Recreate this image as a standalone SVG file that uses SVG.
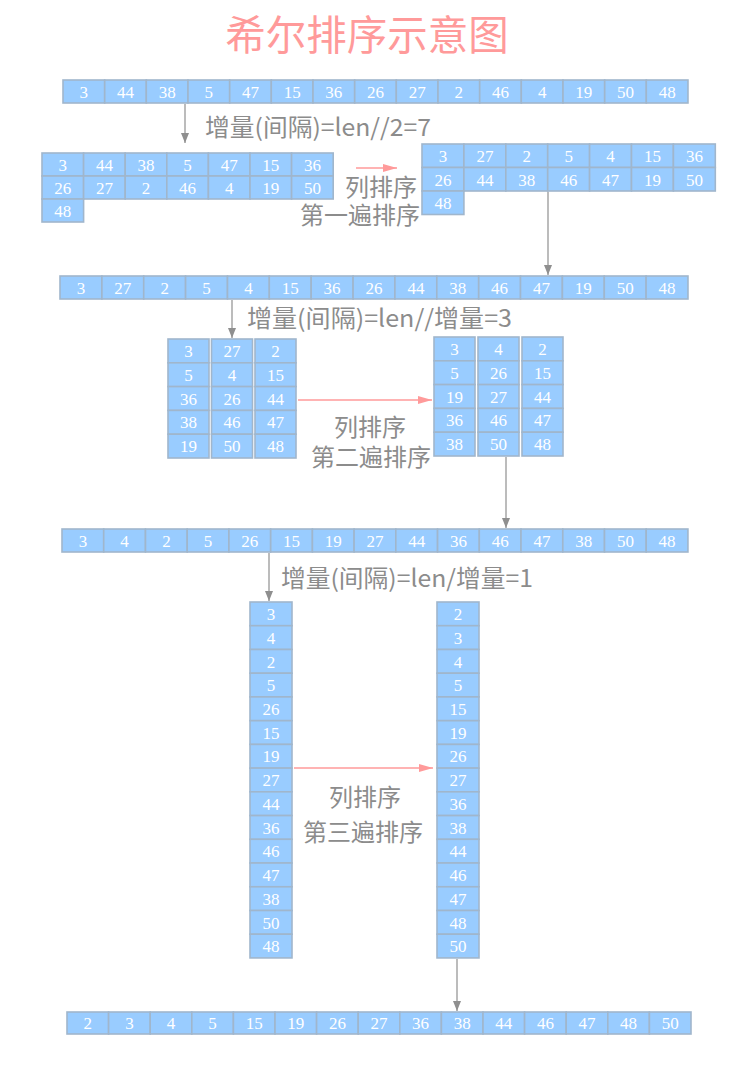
<svg xmlns="http://www.w3.org/2000/svg" width="745" height="1066" viewBox="0 0 745 1066">
<defs>
<style>
.c{fill:#99ccff;stroke:#a0b6cc;stroke-width:1.6}
.n{fill:#ffffff;font-family:"Liberation Serif","Times New Roman",serif;font-size:17px;text-anchor:middle}
.lb{fill:#8c8c8c;font-family:"Noto Sans CJK SC","Noto Sans",sans-serif;font-size:24px}
.mid{text-anchor:middle}
.ga{stroke:#8f8f8f;stroke-width:1.2;fill:none}
.pa{stroke:#ff9a9a;stroke-width:1.4;fill:none}
.title{fill:#ff9a9a;font-family:"Noto Sans CJK SC",sans-serif;font-size:40.5px;text-anchor:middle;dominant-baseline:central}
</style>
<marker id="ag" markerUnits="userSpaceOnUse" markerWidth="10" markerHeight="8" refX="10" refY="4" orient="auto"><path d="M0,0 L10,4 L0,8 z" fill="#8f8f8f"/></marker>
<marker id="ap" markerUnits="userSpaceOnUse" markerWidth="14" markerHeight="8" refX="14" refY="4" orient="auto"><path d="M0,0 L14,4 L0,8 z" fill="#ff9a9a"/></marker>
</defs>
<rect width="745" height="1066" fill="#ffffff"/>
<text class="title" x="367" y="32">希尔排序示意图</text>

<g id="row1">
<rect class="c" x="63.0" y="80" width="41.67" height="23"/><text class="n" x="83.8" y="97.5">3</text>
<rect class="c" x="104.7" y="80" width="41.67" height="23"/><text class="n" x="125.5" y="97.5">44</text>
<rect class="c" x="146.3" y="80" width="41.67" height="23"/><text class="n" x="167.2" y="97.5">38</text>
<rect class="c" x="188.0" y="80" width="41.67" height="23"/><text class="n" x="208.8" y="97.5">5</text>
<rect class="c" x="229.7" y="80" width="41.67" height="23"/><text class="n" x="250.5" y="97.5">47</text>
<rect class="c" x="271.3" y="80" width="41.67" height="23"/><text class="n" x="292.2" y="97.5">15</text>
<rect class="c" x="313.0" y="80" width="41.67" height="23"/><text class="n" x="333.8" y="97.5">36</text>
<rect class="c" x="354.7" y="80" width="41.67" height="23"/><text class="n" x="375.5" y="97.5">26</text>
<rect class="c" x="396.3" y="80" width="41.67" height="23"/><text class="n" x="417.2" y="97.5">27</text>
<rect class="c" x="438.0" y="80" width="41.67" height="23"/><text class="n" x="458.8" y="97.5">2</text>
<rect class="c" x="479.7" y="80" width="41.67" height="23"/><text class="n" x="500.5" y="97.5">46</text>
<rect class="c" x="521.3" y="80" width="41.67" height="23"/><text class="n" x="542.2" y="97.5">4</text>
<rect class="c" x="563.0" y="80" width="41.67" height="23"/><text class="n" x="583.8" y="97.5">19</text>
<rect class="c" x="604.7" y="80" width="41.67" height="23"/><text class="n" x="625.5" y="97.5">50</text>
<rect class="c" x="646.3" y="80" width="41.67" height="23"/><text class="n" x="667.2" y="97.5">48</text>
</g>

<g id="group1-left">
<rect class="c" x="42.0" y="153" width="41.6" height="23"/><text class="n" x="62.8" y="170.5">3</text>
<rect class="c" x="83.6" y="153" width="41.6" height="23"/><text class="n" x="104.4" y="170.5">44</text>
<rect class="c" x="125.2" y="153" width="41.6" height="23"/><text class="n" x="146.0" y="170.5">38</text>
<rect class="c" x="166.8" y="153" width="41.6" height="23"/><text class="n" x="187.6" y="170.5">5</text>
<rect class="c" x="208.4" y="153" width="41.6" height="23"/><text class="n" x="229.2" y="170.5">47</text>
<rect class="c" x="250.0" y="153" width="41.6" height="23"/><text class="n" x="270.8" y="170.5">15</text>
<rect class="c" x="291.6" y="153" width="41.6" height="23"/><text class="n" x="312.4" y="170.5">36</text>
<rect class="c" x="42.0" y="176" width="41.6" height="23"/><text class="n" x="62.8" y="193.5">26</text>
<rect class="c" x="83.6" y="176" width="41.6" height="23"/><text class="n" x="104.4" y="193.5">27</text>
<rect class="c" x="125.2" y="176" width="41.6" height="23"/><text class="n" x="146.0" y="193.5">2</text>
<rect class="c" x="166.8" y="176" width="41.6" height="23"/><text class="n" x="187.6" y="193.5">46</text>
<rect class="c" x="208.4" y="176" width="41.6" height="23"/><text class="n" x="229.2" y="193.5">4</text>
<rect class="c" x="250.0" y="176" width="41.6" height="23"/><text class="n" x="270.8" y="193.5">19</text>
<rect class="c" x="291.6" y="176" width="41.6" height="23"/><text class="n" x="312.4" y="193.5">50</text>
<rect class="c" x="42.0" y="199" width="41.6" height="23"/><text class="n" x="62.8" y="216.5">48</text>
</g>

<g id="group1-right">
<rect class="c" x="422.0" y="144" width="41.9" height="23.5"/><text class="n" x="443.0" y="162">3</text>
<rect class="c" x="463.9" y="144" width="41.9" height="23.5"/><text class="n" x="484.9" y="162">27</text>
<rect class="c" x="505.8" y="144" width="41.9" height="23.5"/><text class="n" x="526.8" y="162">2</text>
<rect class="c" x="547.7" y="144" width="41.9" height="23.5"/><text class="n" x="568.7" y="162">5</text>
<rect class="c" x="589.6" y="144" width="41.9" height="23.5"/><text class="n" x="610.6" y="162">4</text>
<rect class="c" x="631.5" y="144" width="41.9" height="23.5"/><text class="n" x="652.5" y="162">15</text>
<rect class="c" x="673.4" y="144" width="41.9" height="23.5"/><text class="n" x="694.4" y="162">36</text>
<rect class="c" x="422.0" y="167.5" width="41.9" height="23.5"/><text class="n" x="443.0" y="185.5">26</text>
<rect class="c" x="463.9" y="167.5" width="41.9" height="23.5"/><text class="n" x="484.9" y="185.5">44</text>
<rect class="c" x="505.8" y="167.5" width="41.9" height="23.5"/><text class="n" x="526.8" y="185.5">38</text>
<rect class="c" x="547.7" y="167.5" width="41.9" height="23.5"/><text class="n" x="568.7" y="185.5">46</text>
<rect class="c" x="589.6" y="167.5" width="41.9" height="23.5"/><text class="n" x="610.6" y="185.5">47</text>
<rect class="c" x="631.5" y="167.5" width="41.9" height="23.5"/><text class="n" x="652.5" y="185.5">19</text>
<rect class="c" x="673.4" y="167.5" width="41.9" height="23.5"/><text class="n" x="694.4" y="185.5">50</text>
<rect class="c" x="422.0" y="191" width="41.9" height="23.5"/><text class="n" x="443.0" y="209">48</text>
</g>

<g id="row2">
<rect class="c" x="60.0" y="276" width="41.87" height="23"/><text class="n" x="80.9" y="294">3</text>
<rect class="c" x="101.9" y="276" width="41.87" height="23"/><text class="n" x="122.8" y="294">27</text>
<rect class="c" x="143.7" y="276" width="41.87" height="23"/><text class="n" x="164.7" y="294">2</text>
<rect class="c" x="185.6" y="276" width="41.87" height="23"/><text class="n" x="206.5" y="294">5</text>
<rect class="c" x="227.5" y="276" width="41.87" height="23"/><text class="n" x="248.4" y="294">4</text>
<rect class="c" x="269.3" y="276" width="41.87" height="23"/><text class="n" x="290.3" y="294">15</text>
<rect class="c" x="311.2" y="276" width="41.87" height="23"/><text class="n" x="332.1" y="294">36</text>
<rect class="c" x="353.1" y="276" width="41.87" height="23"/><text class="n" x="374.0" y="294">26</text>
<rect class="c" x="394.9" y="276" width="41.87" height="23"/><text class="n" x="415.9" y="294">44</text>
<rect class="c" x="436.8" y="276" width="41.87" height="23"/><text class="n" x="457.7" y="294">38</text>
<rect class="c" x="478.7" y="276" width="41.87" height="23"/><text class="n" x="499.6" y="294">46</text>
<rect class="c" x="520.5" y="276" width="41.87" height="23"/><text class="n" x="541.5" y="294">47</text>
<rect class="c" x="562.4" y="276" width="41.87" height="23"/><text class="n" x="583.3" y="294">19</text>
<rect class="c" x="604.3" y="276" width="41.87" height="23"/><text class="n" x="625.2" y="294">50</text>
<rect class="c" x="646.1" y="276" width="41.87" height="23"/><text class="n" x="667.1" y="294">48</text>
</g>

<g id="group2-left">
<rect class="c" x="168" y="339" width="41" height="23.8"/><text class="n" x="188.5" y="357">3</text>
<rect class="c" x="168" y="362.8" width="41" height="23.8"/><text class="n" x="188.5" y="380.8">5</text>
<rect class="c" x="168" y="386.6" width="41" height="23.8"/><text class="n" x="188.5" y="404.6">36</text>
<rect class="c" x="168" y="410.4" width="41" height="23.8"/><text class="n" x="188.5" y="428.4">38</text>
<rect class="c" x="168" y="434.2" width="41" height="23.8"/><text class="n" x="188.5" y="452.2">19</text>
<rect class="c" x="211.5" y="339" width="41" height="23.8"/><text class="n" x="232" y="357">27</text>
<rect class="c" x="211.5" y="362.8" width="41" height="23.8"/><text class="n" x="232" y="380.8">4</text>
<rect class="c" x="211.5" y="386.6" width="41" height="23.8"/><text class="n" x="232" y="404.6">26</text>
<rect class="c" x="211.5" y="410.4" width="41" height="23.8"/><text class="n" x="232" y="428.4">46</text>
<rect class="c" x="211.5" y="434.2" width="41" height="23.8"/><text class="n" x="232" y="452.2">50</text>
<rect class="c" x="255" y="339" width="41" height="23.8"/><text class="n" x="275.5" y="357">2</text>
<rect class="c" x="255" y="362.8" width="41" height="23.8"/><text class="n" x="275.5" y="380.8">15</text>
<rect class="c" x="255" y="386.6" width="41" height="23.8"/><text class="n" x="275.5" y="404.6">44</text>
<rect class="c" x="255" y="410.4" width="41" height="23.8"/><text class="n" x="275.5" y="428.4">47</text>
<rect class="c" x="255" y="434.2" width="41" height="23.8"/><text class="n" x="275.5" y="452.2">48</text>
</g>

<g id="group2-right">
<rect class="c" x="434" y="337" width="41" height="23.8"/><text class="n" x="454.5" y="355">3</text>
<rect class="c" x="434" y="360.8" width="41" height="23.8"/><text class="n" x="454.5" y="378.8">5</text>
<rect class="c" x="434" y="384.6" width="41" height="23.8"/><text class="n" x="454.5" y="402.6">19</text>
<rect class="c" x="434" y="408.4" width="41" height="23.8"/><text class="n" x="454.5" y="426.4">36</text>
<rect class="c" x="434" y="432.2" width="41" height="23.8"/><text class="n" x="454.5" y="450.2">38</text>
<rect class="c" x="478" y="337" width="41" height="23.8"/><text class="n" x="498.5" y="355">4</text>
<rect class="c" x="478" y="360.8" width="41" height="23.8"/><text class="n" x="498.5" y="378.8">26</text>
<rect class="c" x="478" y="384.6" width="41" height="23.8"/><text class="n" x="498.5" y="402.6">27</text>
<rect class="c" x="478" y="408.4" width="41" height="23.8"/><text class="n" x="498.5" y="426.4">46</text>
<rect class="c" x="478" y="432.2" width="41" height="23.8"/><text class="n" x="498.5" y="450.2">50</text>
<rect class="c" x="522" y="337" width="41" height="23.8"/><text class="n" x="542.5" y="355">2</text>
<rect class="c" x="522" y="360.8" width="41" height="23.8"/><text class="n" x="542.5" y="378.8">15</text>
<rect class="c" x="522" y="384.6" width="41" height="23.8"/><text class="n" x="542.5" y="402.6">44</text>
<rect class="c" x="522" y="408.4" width="41" height="23.8"/><text class="n" x="542.5" y="426.4">47</text>
<rect class="c" x="522" y="432.2" width="41" height="23.8"/><text class="n" x="542.5" y="450.2">48</text>
</g>

<g id="row3">
<rect class="c" x="62.0" y="529" width="41.73" height="23"/><text class="n" x="82.9" y="547">3</text>
<rect class="c" x="103.7" y="529" width="41.73" height="23"/><text class="n" x="124.6" y="547">4</text>
<rect class="c" x="145.5" y="529" width="41.73" height="23"/><text class="n" x="166.4" y="547">2</text>
<rect class="c" x="187.2" y="529" width="41.73" height="23"/><text class="n" x="208.1" y="547">5</text>
<rect class="c" x="228.9" y="529" width="41.73" height="23"/><text class="n" x="249.8" y="547">26</text>
<rect class="c" x="270.7" y="529" width="41.73" height="23"/><text class="n" x="291.6" y="547">15</text>
<rect class="c" x="312.4" y="529" width="41.73" height="23"/><text class="n" x="333.3" y="547">19</text>
<rect class="c" x="354.1" y="529" width="41.73" height="23"/><text class="n" x="375.0" y="547">27</text>
<rect class="c" x="395.8" y="529" width="41.73" height="23"/><text class="n" x="416.7" y="547">44</text>
<rect class="c" x="437.6" y="529" width="41.73" height="23"/><text class="n" x="458.5" y="547">36</text>
<rect class="c" x="479.3" y="529" width="41.73" height="23"/><text class="n" x="500.2" y="547">46</text>
<rect class="c" x="521.0" y="529" width="41.73" height="23"/><text class="n" x="541.9" y="547">47</text>
<rect class="c" x="562.8" y="529" width="41.73" height="23"/><text class="n" x="583.7" y="547">38</text>
<rect class="c" x="604.5" y="529" width="41.73" height="23"/><text class="n" x="625.4" y="547">50</text>
<rect class="c" x="646.2" y="529" width="41.73" height="23"/><text class="n" x="667.1" y="547">48</text>
</g>

<g id="column3-left">
<rect class="c" x="250" y="602" width="42" height="23.73"/><text class="n" x="271" y="620">3</text>
<rect class="c" x="250" y="625.7" width="42" height="23.73"/><text class="n" x="271" y="643.7">4</text>
<rect class="c" x="250" y="649.5" width="42" height="23.73"/><text class="n" x="271" y="667.5">2</text>
<rect class="c" x="250" y="673.2" width="42" height="23.73"/><text class="n" x="271" y="691.2">5</text>
<rect class="c" x="250" y="696.9" width="42" height="23.73"/><text class="n" x="271" y="714.9">26</text>
<rect class="c" x="250" y="720.7" width="42" height="23.73"/><text class="n" x="271" y="738.7">15</text>
<rect class="c" x="250" y="744.4" width="42" height="23.73"/><text class="n" x="271" y="762.4">19</text>
<rect class="c" x="250" y="768.1" width="42" height="23.73"/><text class="n" x="271" y="786.1">27</text>
<rect class="c" x="250" y="791.8" width="42" height="23.73"/><text class="n" x="271" y="809.8">44</text>
<rect class="c" x="250" y="815.6" width="42" height="23.73"/><text class="n" x="271" y="833.6">36</text>
<rect class="c" x="250" y="839.3" width="42" height="23.73"/><text class="n" x="271" y="857.3">46</text>
<rect class="c" x="250" y="863.0" width="42" height="23.73"/><text class="n" x="271" y="881">47</text>
<rect class="c" x="250" y="886.8" width="42" height="23.73"/><text class="n" x="271" y="904.8">38</text>
<rect class="c" x="250" y="910.5" width="42" height="23.73"/><text class="n" x="271" y="928.5">50</text>
<rect class="c" x="250" y="934.2" width="42" height="23.73"/><text class="n" x="271" y="952.2">48</text>
</g>

<g id="column3-right">
<rect class="c" x="437" y="602" width="42" height="23.73"/><text class="n" x="458" y="620">2</text>
<rect class="c" x="437" y="625.7" width="42" height="23.73"/><text class="n" x="458" y="643.7">3</text>
<rect class="c" x="437" y="649.5" width="42" height="23.73"/><text class="n" x="458" y="667.5">4</text>
<rect class="c" x="437" y="673.2" width="42" height="23.73"/><text class="n" x="458" y="691.2">5</text>
<rect class="c" x="437" y="696.9" width="42" height="23.73"/><text class="n" x="458" y="714.9">15</text>
<rect class="c" x="437" y="720.7" width="42" height="23.73"/><text class="n" x="458" y="738.7">19</text>
<rect class="c" x="437" y="744.4" width="42" height="23.73"/><text class="n" x="458" y="762.4">26</text>
<rect class="c" x="437" y="768.1" width="42" height="23.73"/><text class="n" x="458" y="786.1">27</text>
<rect class="c" x="437" y="791.8" width="42" height="23.73"/><text class="n" x="458" y="809.8">36</text>
<rect class="c" x="437" y="815.6" width="42" height="23.73"/><text class="n" x="458" y="833.6">38</text>
<rect class="c" x="437" y="839.3" width="42" height="23.73"/><text class="n" x="458" y="857.3">44</text>
<rect class="c" x="437" y="863.0" width="42" height="23.73"/><text class="n" x="458" y="881">46</text>
<rect class="c" x="437" y="886.8" width="42" height="23.73"/><text class="n" x="458" y="904.8">47</text>
<rect class="c" x="437" y="910.5" width="42" height="23.73"/><text class="n" x="458" y="928.5">48</text>
<rect class="c" x="437" y="934.2" width="42" height="23.73"/><text class="n" x="458" y="952.2">50</text>
</g>

<g id="row-final">
<rect class="c" x="67.0" y="1012" width="41.6" height="22"/><text class="n" x="87.8" y="1029">2</text>
<rect class="c" x="108.6" y="1012" width="41.6" height="22"/><text class="n" x="129.4" y="1029">3</text>
<rect class="c" x="150.2" y="1012" width="41.6" height="22"/><text class="n" x="171.0" y="1029">4</text>
<rect class="c" x="191.8" y="1012" width="41.6" height="22"/><text class="n" x="212.6" y="1029">5</text>
<rect class="c" x="233.4" y="1012" width="41.6" height="22"/><text class="n" x="254.2" y="1029">15</text>
<rect class="c" x="275.0" y="1012" width="41.6" height="22"/><text class="n" x="295.8" y="1029">19</text>
<rect class="c" x="316.6" y="1012" width="41.6" height="22"/><text class="n" x="337.4" y="1029">26</text>
<rect class="c" x="358.2" y="1012" width="41.6" height="22"/><text class="n" x="379.0" y="1029">27</text>
<rect class="c" x="399.8" y="1012" width="41.6" height="22"/><text class="n" x="420.6" y="1029">36</text>
<rect class="c" x="441.4" y="1012" width="41.6" height="22"/><text class="n" x="462.2" y="1029">38</text>
<rect class="c" x="483.0" y="1012" width="41.6" height="22"/><text class="n" x="503.8" y="1029">44</text>
<rect class="c" x="524.6" y="1012" width="41.6" height="22"/><text class="n" x="545.4" y="1029">46</text>
<rect class="c" x="566.2" y="1012" width="41.6" height="22"/><text class="n" x="587.0" y="1029">47</text>
<rect class="c" x="607.8" y="1012" width="41.6" height="22"/><text class="n" x="628.6" y="1029">48</text>
<rect class="c" x="649.4" y="1012" width="41.6" height="22"/><text class="n" x="670.2" y="1029">50</text>
</g>

<g id="connectors">
<line class="ga" x1="185" y1="104" x2="185" y2="143" marker-end="url(#ag)"/>
<line class="pa" x1="356" y1="168" x2="397" y2="168" marker-end="url(#ap)"/>
<line class="ga" x1="548" y1="192" x2="548" y2="275" marker-end="url(#ag)"/>
<line class="ga" x1="232" y1="300" x2="232" y2="338" marker-end="url(#ag)"/>
<line class="pa" x1="298" y1="400" x2="432" y2="400" marker-end="url(#ap)"/>
<line class="ga" x1="506" y1="457" x2="506" y2="528" marker-end="url(#ag)"/>
<line class="ga" x1="269" y1="553" x2="269" y2="601" marker-end="url(#ag)"/>
<line class="pa" x1="294" y1="768" x2="433" y2="768" marker-end="url(#ap)"/>
<line class="ga" x1="457" y1="959" x2="457" y2="1011" marker-end="url(#ag)"/>
</g>

<g id="labels">
<text class="lb" x="205" y="136" textLength="226" lengthAdjust="spacingAndGlyphs">增量(间隔)=len//2=7</text>
<text class="lb mid"><tspan x="381" y="196">列排序</tspan><tspan x="360" y="224">第一遍排序</tspan></text>
<text class="lb" x="247" y="327" textLength="265" lengthAdjust="spacingAndGlyphs">增量(间隔)=len//增量=3</text>
<text class="lb mid"><tspan x="370" y="436">列排序</tspan><tspan x="371" y="466">第二遍排序</tspan></text>
<text class="lb" x="281" y="587" textLength="252" lengthAdjust="spacingAndGlyphs">增量(间隔)=len/增量=1</text>
<text class="lb mid"><tspan x="365" y="806">列排序</tspan><tspan x="363" y="841">第三遍排序</tspan></text>
</g>
</svg>
